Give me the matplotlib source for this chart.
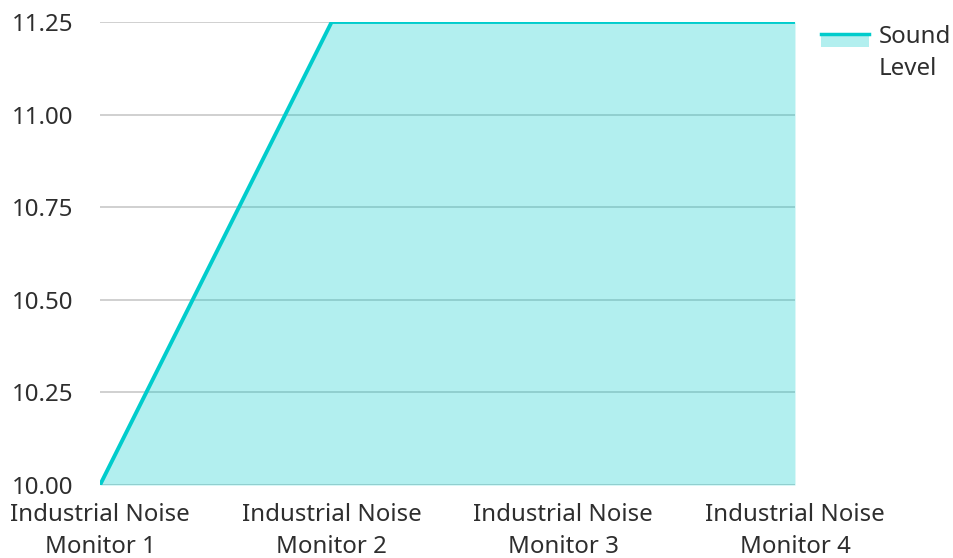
import matplotlib.pyplot as plt
from matplotlib.patches import Rectangle
from matplotlib.lines import Line2D

plt.rcParams['font.family'] = ['Noto Sans', 'DejaVu Sans']

monitors = ['Industrial Noise\nMonitor 1', 'Industrial Noise\nMonitor 2',
            'Industrial Noise\nMonitor 3', 'Industrial Noise\nMonitor 4']
sound_level = [10.0, 11.25, 11.25, 11.25]
y_ticks = [10.00, 10.25, 10.50, 10.75, 11.00, 11.25]

line_color = '#00cccc'
text_color = '#2e2e2e'
fs = 17.3

fig = plt.figure(figsize=(9.54, 5.58), dpi=100)
ax = fig.add_axes([0.1048, 0.1308, 0.7285, 0.8298])

x = list(range(len(monitors)))
# grid sits underneath the translucent fill
ax.grid(axis='y', color='#c8c8c8', lw=1.2, zorder=0)
ax.set_axisbelow(True)
ax.fill_between(x, sound_level, 10.0, color=line_color, alpha=0.3, lw=0, zorder=1)
ax.plot(x, sound_level, color=line_color, lw=2.8, zorder=3, solid_capstyle='butt')

ax.set_xlim(0, len(monitors) - 1)
ax.set_ylim(10.0, 11.25)
ax.set_yticks(y_ticks)
ax.set_yticklabels([f'{v:.2f}' for v in y_ticks])
ax.set_xticks(x)
ax.set_xticklabels(monitors, linespacing=1.43)
for s in ax.spines.values():
    s.set_visible(False)
ax.tick_params(axis='y', length=0, pad=19, labelsize=fs, labelcolor=text_color)
ax.tick_params(axis='x', length=0, pad=13, labelsize=fs, labelcolor=text_color)

# legend drawn by hand: filled swatch with the line along its top
fig.patches.append(Rectangle((821 / 954, 1 - 47 / 558), 48 / 954, 13 / 558,
                             transform=fig.transFigure, color=line_color,
                             alpha=0.3, lw=0))
fig.lines.append(Line2D([821 / 954, 869 / 954], [1 - 34 / 558, 1 - 34 / 558],
                        transform=fig.transFigure, color=line_color, lw=2.5))
fig.text(879 / 954, 1 - 53 / 558, 'Sound\nLevel', ha='left', va='center',
         fontsize=fs, color=text_color, linespacing=1.39)

fig.savefig('out.png', dpi=100)
